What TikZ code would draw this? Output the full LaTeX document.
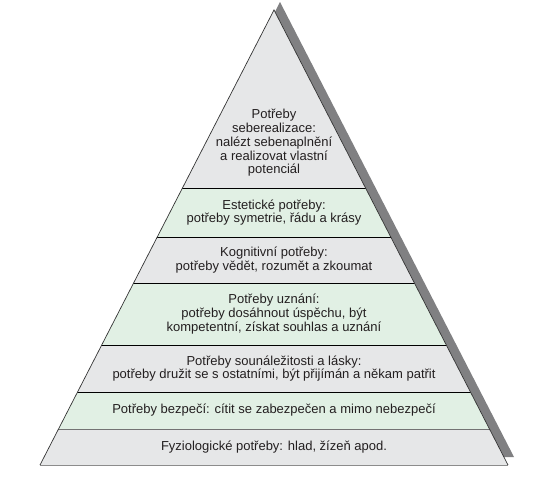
\documentclass[tikz,border=0pt]{standalone}
\usepackage{fontspec}
\setmainfont{Liberation Sans}
\definecolor{lvgray}{RGB}{230,231,232}
\definecolor{lvgreen}{RGB}{225,240,228}
\definecolor{shadowgray}{RGB}{128,128,130}
\definecolor{txt}{RGB}{35,31,32}
\begin{document}
\begin{tikzpicture}[x=1pt,y=-1pt,
  lbl/.style={font=\fontsize{13}{13.8}\selectfont, text=txt, align=center, inner sep=0pt},
  sep/.style={draw=black, line width=0.9pt},
  sepgray/.style={draw=black!55, line width=0.9pt},
  edge/.style={draw=black!80, line width=0.7pt},
  baseline/.style={draw=black!45, line width=1pt}]
\useasboundingbox (0,0) rectangle (557,496);
\coordinate (apex) at (274,10);
\coordinate (bl) at (40,465);
\coordinate (br) at (508,465);
\fill[shadowgray] ([shift={(6,-8)}]apex) -- ([shift={(6,-8)}]bl) -- ([shift={(6,-8)}]br) -- cycle;
\begin{scope}
  \clip (apex) -- (bl) -- (br) -- cycle;
  \fill[lvgray]  (0,0)   rectangle (557,188);
  \fill[lvgreen] (0,188) rectangle (557,237);
  \fill[lvgray]  (0,237) rectangle (557,283);
  \fill[lvgreen] (0,283) rectangle (557,345);
  \fill[lvgray]  (0,345) rectangle (557,392);
  \fill[lvgreen] (0,392) rectangle (557,429);
  \fill[lvgray]  (0,429) rectangle (557,465);
  \draw[sep] (0,188) -- (557,188);
  \draw[sep] (0,237) -- (557,237);
  \draw[sep] (0,283) -- (557,283);
  \draw[sep] (0,345) -- (557,345);
  \draw[sep] (0,392) -- (557,392);
  \draw[sepgray] (0,429) -- (557,429);
\end{scope}
\draw[edge] (br) -- (apex) -- (bl);
\draw[baseline] (bl) -- (br);

\node[lbl] (l7) at (274,143) {Potřeby\\seberealizace:\\nalézt sebenaplnění\\a realizovat vlastní\\potenciál};
\node[lbl] (l6) at (274,212.5) {Estetické potřeby:\\potřeby symetrie, řádu a krásy};
\node[lbl] (l5) at (274,260) {Kognitivní potřeby:\\potřeby vědět, rozumět a zkoumat};
\node[lbl] (l4) at (274,314) {Potřeby uznání:\\potřeby dosáhnout úspěchu, být\\kompetentní, získat souhlas a uznání};
\node[lbl] (l3) at (274,368.5) {Potřeby sounáležitosti a lásky:\\potřeby družit se s ostatními, být přijímán a někam patřit};
\node[lbl] (l2) at (274,410.5) {Potřeby bezpečí: cítit se zabezpečen a mimo nebezpečí};
\node[lbl] (l1) at (274,447.5) {Fyziologické potřeby: hlad, žízeň apod.};
\end{tikzpicture}
\end{document}
